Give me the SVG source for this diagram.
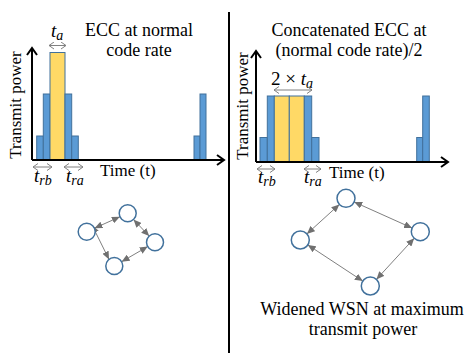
<svg xmlns="http://www.w3.org/2000/svg" width="474" height="361" viewBox="0 0 474 361">
<defs>
<style>
text{font-family:'Liberation Serif',serif;fill:#000}
.ttl{font-size:18px;text-anchor:middle}
.ax{font-size:17px}
.m{font-style:italic}
.blue{fill:#5B9BD5;stroke:#41719C;stroke-width:1}
.yel{fill:#FFD966;stroke:#41719C;stroke-width:1}
.axis{stroke:#000;stroke-width:2;fill:none}
.dur{stroke:#808080;stroke-width:1;fill:none;marker-start:url(#ch);marker-end:url(#ch)}
.edge{stroke:#808080;stroke-width:1;fill:none;marker-start:url(#tri);marker-end:url(#tri)}
.node{fill:#fff;stroke:#41719C;stroke-width:1.5}
</style>
<marker id="tri" viewBox="0 0 8 7" refX="8" refY="3.5" markerWidth="8" markerHeight="7" markerUnits="userSpaceOnUse" orient="auto-start-reverse">
<path d="M0,0 L8,3.5 L0,7 z" fill="#707070"/>
</marker>
<marker id="ch" viewBox="0 0 6 8" refX="5.5" refY="4" markerWidth="6" markerHeight="8" markerUnits="userSpaceOnUse" orient="auto-start-reverse">
<path d="M0.5,0.5 L5.5,4 L0.5,7.5" fill="none" stroke="#808080" stroke-width="1"/>
</marker>
</defs>
<rect width="474" height="361" fill="#fff"/>

<line x1="229" y1="12" x2="229" y2="353" stroke="#000" stroke-width="2"/>

<g id="left-chart">
<text class="ttl" x="139" y="36" font-family="Liberation Serif">ECC at normal</text>
<text class="ttl" x="139" y="56" font-family="Liberation Serif">code rate</text>
<rect class="blue" x="36.7" y="136" width="6.6" height="24"/>
<rect class="blue" x="43.3" y="94" width="6.7" height="66"/>
<rect class="yel" x="50" y="52.5" width="15" height="107.5"/>
<rect class="blue" x="65" y="94" width="6.7" height="66"/>
<rect class="blue" x="71.7" y="136" width="6.6" height="24"/>
<rect class="blue" x="194" y="136" width="6" height="24"/>
<rect class="blue" x="200" y="94" width="6" height="66"/>
<polyline class="axis" points="32,160 32,48"/>
<polyline class="axis" points="27,55 32,48 37,55"/>
<polyline class="axis" points="32,160 224,160"/>
<polyline class="axis" points="217,155 224,160 217,165"/>
<text class="ax" transform="translate(20.5,105) rotate(-90)" text-anchor="middle" font-family="Liberation Serif">Transmit power</text>
<text class="ax" x="100" y="176" font-family="Liberation Serif">Time (t)</text>
<line class="dur" x1="49" y1="45.5" x2="66" y2="45.5"/>
<text class="m" x="51" y="37" font-size="19" font-family="Liberation Serif">t<tspan font-size="14" dy="3">a</tspan></text>
<line class="dur" x1="33" y1="167" x2="52" y2="167"/>
<line class="dur" x1="64" y1="167" x2="83" y2="167"/>
<text class="m" x="34" y="182" font-size="19" font-family="Liberation Serif">t<tspan font-size="14" dy="3">rb</tspan></text>
<text class="m" x="66" y="182" font-size="19" font-family="Liberation Serif">t<tspan font-size="14" dy="3">ra</tspan></text>
</g>

<g id="right-chart">
<text class="ttl" x="349" y="36" font-family="Liberation Serif">Concatenated ECC at</text>
<text class="ttl" x="349" y="56" font-family="Liberation Serif">(normal code rate)/2</text>
<rect class="blue" x="260" y="137.5" width="7.3" height="24.5"/>
<rect class="blue" x="267.3" y="96" width="7" height="66"/>
<rect class="yel" x="274.3" y="96" width="15" height="66"/>
<rect class="yel" x="289.3" y="96" width="15" height="66"/>
<rect class="blue" x="304.3" y="96" width="7.4" height="66"/>
<rect class="blue" x="311.7" y="137.5" width="7.3" height="24.5"/>
<rect class="blue" x="416.7" y="137.5" width="6" height="24.5"/>
<rect class="blue" x="422.7" y="96" width="6.6" height="66"/>
<polyline class="axis" points="256,162 256,51"/>
<polyline class="axis" points="251,58 256,51 261,58"/>
<polyline class="axis" points="256,162 448,162"/>
<polyline class="axis" points="441,157 448,162 441,167"/>
<text class="ax" transform="translate(247.5,106) rotate(-90)" text-anchor="middle" font-family="Liberation Serif">Transmit power</text>
<text class="ax" x="329" y="178" font-family="Liberation Serif">Time (t)</text>
<text x="271" y="85" font-size="19" font-family="Liberation Serif">2 × <tspan class="m">t</tspan><tspan class="m" font-size="14" dy="3">a</tspan></text>
<line class="dur" x1="274" y1="90" x2="312" y2="90"/>
<line class="dur" x1="257" y1="169" x2="275" y2="169"/>
<line class="dur" x1="304" y1="169" x2="321" y2="169"/>
<text class="m" x="258" y="183" font-size="19" font-family="Liberation Serif">t<tspan font-size="14" dy="3">rb</tspan></text>
<text class="m" x="304" y="183" font-size="19" font-family="Liberation Serif">t<tspan font-size="14" dy="3">ra</tspan></text>
</g>

<g id="connectors">
<line class="edge" x1="94.5" y1="228.2" x2="119.9" y2="216.8"/>
<line class="edge" x1="133.5" y1="219.5" x2="149.2" y2="236.1"/>
<line class="edge" x1="147.7" y1="246.6" x2="121.6" y2="261.7"/>
<line class="edge" x1="109" y1="259.4" x2="92" y2="225.1"/>
<line class="edge" x1="339.4" y1="204.4" x2="306.9" y2="233.9"/>
<line class="edge" x1="354.2" y1="202" x2="412.1" y2="228"/>
<line class="edge" x1="414.2" y1="238.3" x2="376.4" y2="279.4"/>
<line class="edge" x1="307.8" y1="244.9" x2="362.8" y2="281.1"/>
</g>

<g id="nA"><circle class="node" cx="86.7" cy="231.7" r="8.5"/></g>
<g id="nB"><circle class="node" cx="127.7" cy="213.3" r="8.5"/></g>
<g id="nC"><circle class="node" cx="155" cy="242.3" r="8.5"/></g>
<g id="nD"><circle class="node" cx="114.3" cy="266" r="8.5"/></g>

<g id="nE"><circle class="node" cx="346" cy="198.3" r="9"/></g>
<g id="nF"><circle class="node" cx="300.3" cy="240" r="9"/></g>
<g id="nG"><circle class="node" cx="420.3" cy="231.7" r="9"/></g>
<g id="nH"><circle class="node" cx="370.3" cy="286" r="9"/></g>

<g id="caption">
<text class="ttl" x="362" y="315" font-family="Liberation Serif">Widened WSN at maximum</text>
<text class="ttl" x="363" y="335" font-family="Liberation Serif">transmit power</text>
</g>
</svg>
